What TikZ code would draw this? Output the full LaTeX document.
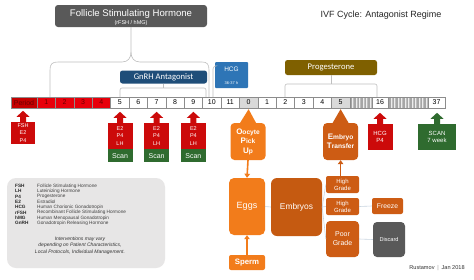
\documentclass[tikz,border=0pt]{standalone}
\usepackage{fontspec}
\setmainfont{Liberation Sans}
\newfontfamily\carl{Carlito}
\usetikzlibrary{arrows.meta,calc,patterns.meta}
\definecolor{perred}{HTML}{C40000}
\definecolor{tred}{HTML}{E8000B}
\definecolor{txtred}{HTML}{6A0000}
\definecolor{mred}{HTML}{CC0A0A}
\definecolor{mgreen}{HTML}{2F6B2F}
\definecolor{hcgblue}{HTML}{2E75B6}
\definecolor{gnrh}{HTML}{1F4E79}
\definecolor{prog}{HTML}{7F6000}
\definecolor{dgray}{HTML}{595959}
\definecolor{leg}{HTML}{E7E6E6}
\definecolor{orgA}{HTML}{F27C1B}
\definecolor{orgB}{HTML}{C55A11}
\definecolor{orgC}{HTML}{CD5C14}
\definecolor{cellline}{HTML}{8C8C8C}
\definecolor{bracecol}{HTML}{BFBFBF}
\definecolor{conncol}{HTML}{C8D4E0}
\definecolor{cellgray}{HTML}{D9D9D9}
\definecolor{hatchbg}{HTML}{EDEDED}
\newcommand\fsz[2]{\fontsize{#1}{#2}\selectfont}
\newcommand\firstbig[2]{{\fsz{8}{9.5}#1}{\fsz{6.6}{9.5}#2}}
\newcommand\uparr[2]{\fill[#2] (#1.north) ++(-3,0.5) -- ++(0,-5.5) -- ++(-3.5,0) -- ++(6.5,-6) -- ++(6.5,6) -- ++(-3.5,0) -- ++(0,5.5) -- cycle;}
\begin{document}
\begin{tikzpicture}[x=1pt,y=-1pt,
  box/.style={rounded corners=2.5pt, inner sep=0pt, text=white, align=center},
  mbox/.style={inner sep=0pt, text=white, align=center},
  cell/.style={draw=cellline, line width=0.4pt, minimum height=11pt, minimum width=18.4pt, inner sep=0pt, font=\fsz{7}{8}},
  brc/.style={draw=bracecol, line width=0.6pt},
  conn/.style={draw=conncol, line width=0.6pt},
  oarr/.style={draw=orgA, line width=1.6pt, -{Triangle[width=5.5pt,length=4pt]}},
  lab/.style={anchor=west, inner sep=0pt, font=\fsz{4.7}{5}},
  wtxt/.style={inner sep=0pt, text=white},
]
\useasboundingbox (0,0) rectangle (474,279);
\fill[white] (0,0) rectangle (474,279);

% title
\node[inner sep=0pt, font=\fsz{9}{10}, text=black!85] (title) at (381,15) {IVF Cycle: Antagonist Regime};

% top boxes
\node[box, fill=dgray, minimum width=152pt, minimum height=22pt, rounded corners=3pt] (fsh) at (131,16) {};
\node[wtxt, font=\fsz{9.6}{10}] (fshT) at ($(fsh.center)+(0,-1.5)$) {Follicle Stimulating Hormone};
\node[wtxt, font=\fsz{5.5}{6}] (fshS) at ($(fsh.center)+(0,7.5)$) {(rFSH / hMG)};
\node[box, fill=gnrh, minimum width=87pt, minimum height=13pt, font=\carl\fsz{8.6}{9}] (gnrh) at (163.5,77) {GnRH Antagonist};
\node[box, fill=hcgblue, minimum width=33pt, minimum height=26pt, rounded corners=1pt] (hcg) at (231.5,75) {};
\node[wtxt, font=\fsz{6.5}{7}] (hcgT) at ($(hcg.center)+(0,-6)$) {HCG};
\node[wtxt, font=\fsz{4}{5}] (hcgS) at ($(hcg.center)+(0,8.5)$) {36-37 h};
\node[box, fill=prog, minimum width=92pt, minimum height=15pt, font=\carl\fsz{8.6}{9}] (prog) at (331,67.5) {Progesterone};

% braces / brackets
\draw[brc] (fsh.south) -- (131,52) .. controls (131,58) and (128,62) .. (122,62) -- (58,62)
  .. controls (52,62) and (50,64) .. (50,70) -- (50,97);
\draw[brc] (131,52) .. controls (131,58) and (134,62) .. (140,62) -- (202,62)
  .. controls (207,62) and (209,64) .. (209,70) -- (209,97);
\draw[brc, rounded corners=2pt] (120,97) -- (120,88) -- (206,88) -- (206,97);
\draw[brc] (gnrh.south) -- (163.5,88);
\draw[brc, rounded corners=3pt] (hcg.west |- 0,66) -- (213,66) -- (213,97);
\draw[brc, rounded corners=2pt] (285,97) -- (285,84) -- (377,84) -- (377,97);
\draw[brc] (prog.south) -- (331,84);

% timeline
\node[cell, fill=perred, minimum width=26pt, text=txtred] (cP) at (24,102.5) {Period};
\foreach \n [count=\i] in {1,2,3,4}
  \node[cell, fill=tred, text=txtred] (c\i) at ({37+18.4*(\i-0.5)},102.5) {\n};
\foreach \n [count=\i from 5] in {5,6,7,8,9,10,11}
  \node[cell, fill=white] (c\i) at ({37+18.4*(\i-0.5)},102.5) {\n};
\node[cell, fill=cellgray] (c12) at ({37+18.4*11.5},102.5) {0};
\foreach \n [count=\i from 13] in {1,2,3,4}
  \node[cell, fill=white] (c\i) at ({37+18.4*(\i-0.5)},102.5) {\n};
\node[cell, fill=cellgray] (c17) at ({37+18.4*16.5},102.5) {5};
\node[cell, minimum width=22.2pt, preaction={fill=hatchbg}, pattern={Lines[angle=90,distance=1.4pt,line width=0.35pt]}, pattern color=gray!70] (hA) at (360.9,102.5) {};
\node[cell, fill=white, minimum width=16pt] (c16) at (380,102.5) {16};
\node[cell, minimum width=40pt, preaction={fill=hatchbg}, pattern={Lines[angle=90,distance=1.4pt,line width=0.35pt]}, pattern color=gray!70] (hB) at (408,102.5) {};
\node[cell, fill=white, minimum width=17pt] (c37) at (436.5,102.5) {37};

% markers
\node[mbox, fill=mred, minimum width=24pt, minimum height=22pt, font=\fsz{5.5}{7.3}] (m0) at (23,133) {FSH\\E2\\P4};
\uparr{m0}{mred}
\foreach \k/\x in {5/120,7/156.6,9/193.4}{
  \node[mbox, fill=mred, minimum width=25pt, minimum height=26pt, font=\fsz{5.5}{7.3}] (m\k) at (\x,136) {E2\\P4\\LH};
  \node[mbox, fill=mgreen, minimum width=25pt, minimum height=13pt, font=\fsz{7}{8}, anchor=north] (s\k) at (m\k.south) {Scan};
  \uparr{m\k}{mred}
}
\node[mbox, fill=mred, minimum width=25pt, minimum height=26pt, font=\fsz{6}{7.3}] (m16) at (380,137) {HCG\\P4};
\uparr{m16}{mred}
\node[mbox, fill=mgreen, minimum width=38pt, minimum height=26pt, font=\fsz{6}{7.3}] (m37) at (437,137) {SCAN\\7 week};
\uparr{m37}{mgreen}

% orange flow
\node[box, fill=orgA, minimum width=35pt, minimum height=37pt, rounded corners=4pt, font=\bfseries\fsz{6.6}{9.5}] (oocyte) at (248,141.5)
  {\firstbig{O}{ocyte}\\\firstbig{P}{ick}\\\firstbig{U}{p}};
\fill[orgA] ($(oocyte.north)+(-8.5,1)$) -- ($(c12.south)+(0,1)$) -- ($(oocyte.north)+(8.5,1)$) -- cycle;
\node[box, fill=orgC, minimum width=35pt, minimum height=37pt, rounded corners=4pt, font=\bfseries\fsz{6.6}{9.5}] (et) at (340.6,141.5)
  {\firstbig{E}{mbryo}\\\firstbig{T}{ransfer}};
\fill[orgC] ($(et.north)+(-8.5,1)$) -- ($(c17.south)+(0,1)$) -- ($(et.north)+(8.5,1)$) -- cycle;

\node[box, fill=orgA, minimum width=36pt, minimum height=57pt, rounded corners=5pt, font=\fsz{9}{10}] (eggs) at (247,206.5) {Eggs};
\node[box, fill=orgA, minimum width=36pt, minimum height=15pt, rounded corners=2pt, font=\bfseries\fsz{7.8}{9}] (sperm) at (247,262.5) {Sperm};
\node[box, fill=orgB, minimum width=51pt, minimum height=58pt, rounded corners=6pt, font=\fsz{8.4}{10}] (emb) at (296.5,207) {Embryos};
\node[box, fill=orgC, minimum width=33pt, minimum height=17pt, rounded corners=2pt, font=\fsz{6}{7.2}] (hg1) at (342.5,184.5) {High\\Grade};
\node[box, fill=orgC, minimum width=33pt, minimum height=17pt, rounded corners=2pt, font=\fsz{6}{7.2}] (hg2) at (342.5,206.5) {High\\Grade};
\node[box, fill=orgC, minimum width=33pt, minimum height=36pt, rounded corners=4pt, font=\fsz{7}{9}] (pg) at (342.5,239) {Poor\\Grade};
\node[box, fill=orgC, minimum width=31pt, minimum height=16pt, rounded corners=2pt, font=\fsz{6.8}{8}] (frz) at (387.5,206) {Freeze};
\node[box, fill=dgray, minimum width=32pt, minimum height=35pt, rounded corners=4pt, font=\fsz{5.6}{7}] (disc) at (389,239.5) {Discard};

\draw[oarr] (oocyte.south) -- (eggs.north);
\draw[oarr] (sperm.north) -- (eggs.south);
\draw[oarr, draw=orgC] (hg1.north -| et.south) -- (et.south);
\draw[conn] (eggs.east) -- (emb.west);
\draw[conn] (emb.east) -- (hg2.west);
\draw[conn] (emb.east) -- (hg1.west);
\draw[conn] (emb.east) -- (pg.west);
\draw[conn] (hg2.east) -- (frz.west);
\draw[conn] (pg.east) -- (disc.west);

% legend
\node[draw=none, fill=leg, rounded corners=9pt, minimum width=158pt, minimum height=90pt, inner sep=0pt] (legend) at (86,223) {};
\foreach \a/\d [count=\i from 0] in {FSH/Follicle Stimulating Hormone, LH/Luteinizing Hormone, P4/Progesterone, E2/Estradiol, HCG/Human Chorionic Gonadotropin, rFSH/Recombinant Follicle Stimulating Hormone, hMG/Human Menopausal Gonadotropin, GnRH/Gonadotropin Releasing Hormone}{
  \node[lab, font=\bfseries\fsz{4.7}{5}, text=black!85] (la\i) at (15,{186+5.3*\i}) {\a};
  \node[lab, text=black!75] (ld\i) at (37,{186+5.3*\i}) {\d};
}
\node[inner sep=0pt, align=center, font=\itshape\fsz{5}{6.3}, text=black!80] (note) at (80,245.5)
  {Interventions may vary\\depending on Patient Characteristics,\\Local Protocols, Individual Management.};

\node[inner sep=0pt, font=\fsz{5.6}{6}, text=black!80] (sig) at (437,268) {Rustamov\enspace{\color{black!40}|}\enspace Jan 2018};
\end{tikzpicture}
\end{document}
